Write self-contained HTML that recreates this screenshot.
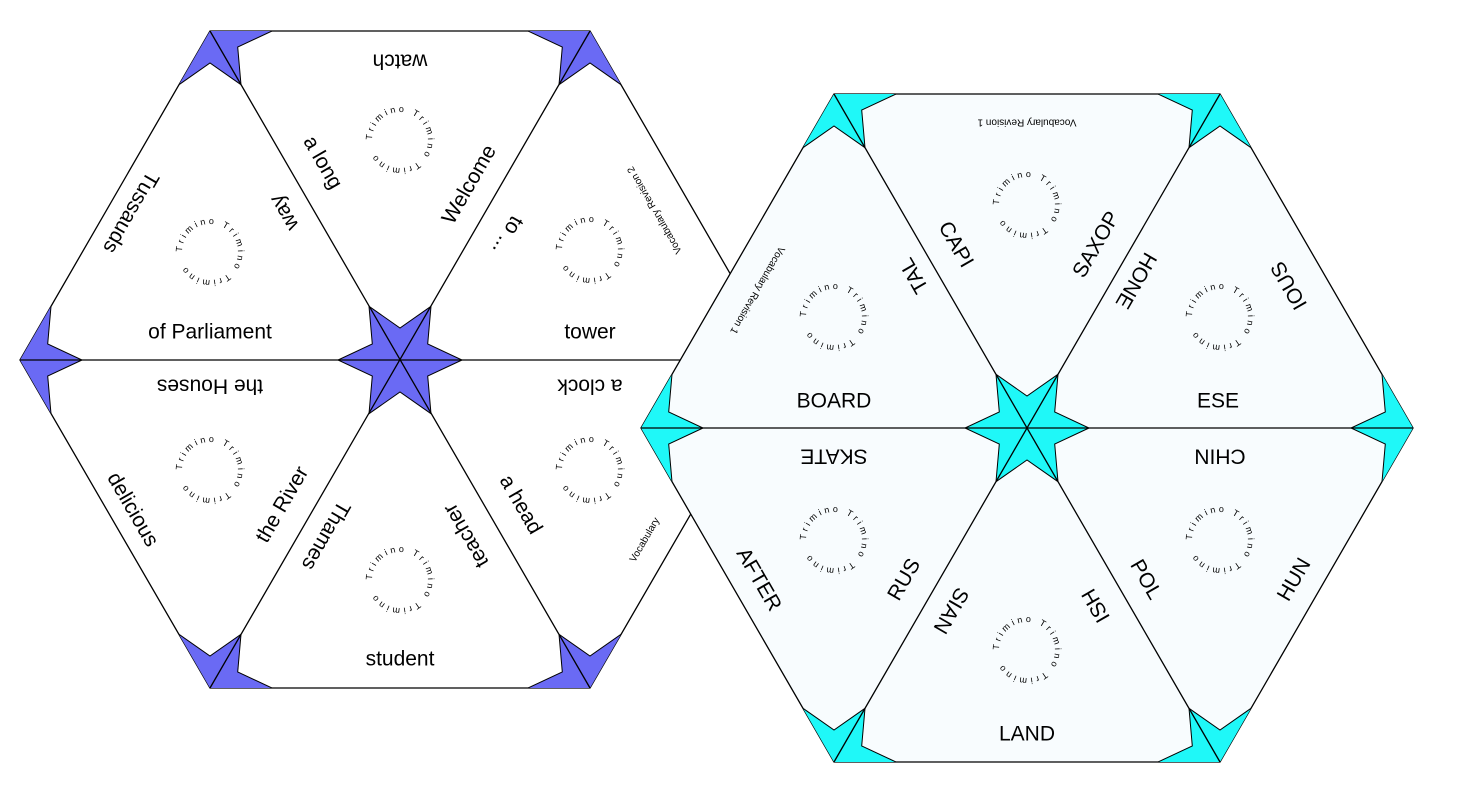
<!DOCTYPE html>
<html><head><meta charset="utf-8"><style>
html,body{margin:0;padding:0;background:#fff}
svg{display:block}
.t{font-family:"Comic Sans MS","Liberation Sans",sans-serif;font-size:21px;fill:#000;text-anchor:middle;dominant-baseline:middle}
.s{font-family:"Comic Sans MS","Liberation Sans",sans-serif;font-size:10px;fill:#000;text-anchor:middle;dominant-baseline:middle}
.c{font-family:"Liberation Sans",sans-serif;font-size:9px;fill:#000}
</style></head><body>
<svg width="1458" height="800" viewBox="0 0 1458 800" xmlns="http://www.w3.org/2000/svg">
<defs>
<polygon id="star" points="62,0 27.7,16 31,53.7 0,32 -31,53.7 -27.7,16 -62,0 -27.7,-16 -31,-53.7 0,-32 31,-53.7 27.7,-16" stroke="#000" stroke-width="1"/>
<clipPath id="hl"><polygon points="20,360 210,31 590,31 780,360 590,688 210,688"/></clipPath>
<clipPath id="hr"><polygon points="641,428 834,94 1220,94 1413,428 1220,762 834,762"/></clipPath>
<path id="cp" d="M -28,0 a 28 28 0 1 1 56 0 a 28 28 0 1 1 -56 0"/>
</defs>

<polygon points="20,360 210,31 590,31 780,360 590,688 210,688" fill="#fff" stroke="#000" stroke-width="1.3"/>
<g clip-path="url(#hl)" fill="#6a6af4">
<use href="#star" x="400" y="360"/>
<use href="#star" x="20" y="360"/><use href="#star" x="210" y="31"/><use href="#star" x="590" y="31"/>
<use href="#star" x="780" y="360"/><use href="#star" x="590" y="688"/><use href="#star" x="210" y="688"/>
</g>
<g stroke="#000" stroke-width="1.3">
<line x1="20" y1="360" x2="780" y2="360"/><line x1="210" y1="31" x2="590" y2="688"/><line x1="590" y1="31" x2="210" y2="688"/>
</g>
<g>
<text class="t" transform="translate(400,60) rotate(180)">watch</text>
<text class="t" transform="translate(322,163) rotate(60)">a long</text>
<text class="t" transform="translate(470,185) rotate(-60)">Welcome</text>
<text class="t" transform="translate(507,235) rotate(120)">to ...</text>
<text class="s" transform="translate(655,210) rotate(-120)">Vocabulary Revision 2</text>
<text class="t" transform="translate(590,333)">tower</text>
<text class="t" transform="translate(285,212) rotate(-120)">way</text>
<text class="t" transform="translate(130,212) rotate(120)">Tussauds</text>
<text class="t" transform="translate(210,333)">of Parliament</text>
<text class="t" transform="translate(210,385) rotate(180)">the Houses</text>
<text class="t" transform="translate(132,510) rotate(60)">delicious</text>
<text class="t" transform="translate(283,505) rotate(-60)">the River</text>
<text class="t" transform="translate(325,535) rotate(120)">Thames</text>
<text class="t" transform="translate(467,535) rotate(-120)">teacher</text>
<text class="t" transform="translate(400,660)">student</text>
<text class="t" transform="translate(590,385) rotate(180)">a clock</text>
<text class="t" transform="translate(520,505) rotate(60)">a head</text>
<text class="s" transform="translate(645,540) rotate(-60)">Vocabulary</text>
</g>
<g>
<g transform="translate(400,140)"><text class="c"><textPath href="#cp" textLength="160" lengthAdjust="spacing">Trimino  Trimino  Trimino</textPath></text></g>
<g transform="translate(590,250)"><text class="c"><textPath href="#cp" textLength="160" lengthAdjust="spacing">Trimino  Trimino  Trimino</textPath></text></g>
<g transform="translate(210,252)"><text class="c"><textPath href="#cp" textLength="160" lengthAdjust="spacing">Trimino  Trimino  Trimino</textPath></text></g>
<g transform="translate(210,470)"><text class="c"><textPath href="#cp" textLength="160" lengthAdjust="spacing">Trimino  Trimino  Trimino</textPath></text></g>
<g transform="translate(400,580)"><text class="c"><textPath href="#cp" textLength="160" lengthAdjust="spacing">Trimino  Trimino  Trimino</textPath></text></g>
<g transform="translate(590,470)"><text class="c"><textPath href="#cp" textLength="160" lengthAdjust="spacing">Trimino  Trimino  Trimino</textPath></text></g>
</g>

<polygon points="641,428 834,94 1220,94 1413,428 1220,762 834,762" fill="#f8fcfe" stroke="#000" stroke-width="1.3"/>
<g clip-path="url(#hr)" fill="#1ff8f8">
<use href="#star" x="1027" y="428"/>
<use href="#star" x="641" y="428"/><use href="#star" x="834" y="94"/><use href="#star" x="1220" y="94"/>
<use href="#star" x="1413" y="428"/><use href="#star" x="1220" y="762"/><use href="#star" x="834" y="762"/>
</g>
<g stroke="#000" stroke-width="1.3">
<line x1="641" y1="428" x2="1413" y2="428"/><line x1="834" y1="94" x2="1220" y2="762"/><line x1="1220" y1="94" x2="834" y2="762"/>
</g>
<g>
<text class="s" transform="translate(1027,122) rotate(180)">Vocabulary Revision 1</text>
<text class="t" transform="translate(955,245) rotate(60)">CAPI</text>
<text class="t" transform="translate(1097,245) rotate(-60)">SAXOP</text>
<text class="t" transform="translate(915,275) rotate(-120)">TAL</text>
<text class="s" transform="translate(757,290) rotate(120)">Vocabulary Revision 1</text>
<text class="t" transform="translate(834,402)">BOARD</text>
<text class="t" transform="translate(1135,280) rotate(120)">HONE</text>
<text class="t" transform="translate(1290,285) rotate(-120)">IOUS</text>
<text class="t" transform="translate(1218,402)">ESE</text>
<text class="t" transform="translate(834,455) rotate(180)">SKATE</text>
<text class="t" transform="translate(758,580) rotate(60)">AFTER</text>
<text class="t" transform="translate(905,580) rotate(-60)">RUS</text>
<text class="t" transform="translate(950,610) rotate(120)">SIAN</text>
<text class="t" transform="translate(1097,605) rotate(-120)">ISH</text>
<text class="t" transform="translate(1027,735)">LAND</text>
<text class="t" transform="translate(1220,455) rotate(180)">CHIN</text>
<text class="t" transform="translate(1145,580) rotate(60)">POL</text>
<text class="t" transform="translate(1295,580) rotate(-60)">HUN</text>
</g>
<g>
<g transform="translate(1027,205)"><text class="c"><textPath href="#cp" textLength="160" lengthAdjust="spacing">Trimino  Trimino  Trimino</textPath></text></g>
<g transform="translate(834,317)"><text class="c"><textPath href="#cp" textLength="160" lengthAdjust="spacing">Trimino  Trimino  Trimino</textPath></text></g>
<g transform="translate(1220,317)"><text class="c"><textPath href="#cp" textLength="160" lengthAdjust="spacing">Trimino  Trimino  Trimino</textPath></text></g>
<g transform="translate(834,540)"><text class="c"><textPath href="#cp" textLength="160" lengthAdjust="spacing">Trimino  Trimino  Trimino</textPath></text></g>
<g transform="translate(1027,650)"><text class="c"><textPath href="#cp" textLength="160" lengthAdjust="spacing">Trimino  Trimino  Trimino</textPath></text></g>
<g transform="translate(1220,540)"><text class="c"><textPath href="#cp" textLength="160" lengthAdjust="spacing">Trimino  Trimino  Trimino</textPath></text></g>
</g>
</svg>
</body></html>
